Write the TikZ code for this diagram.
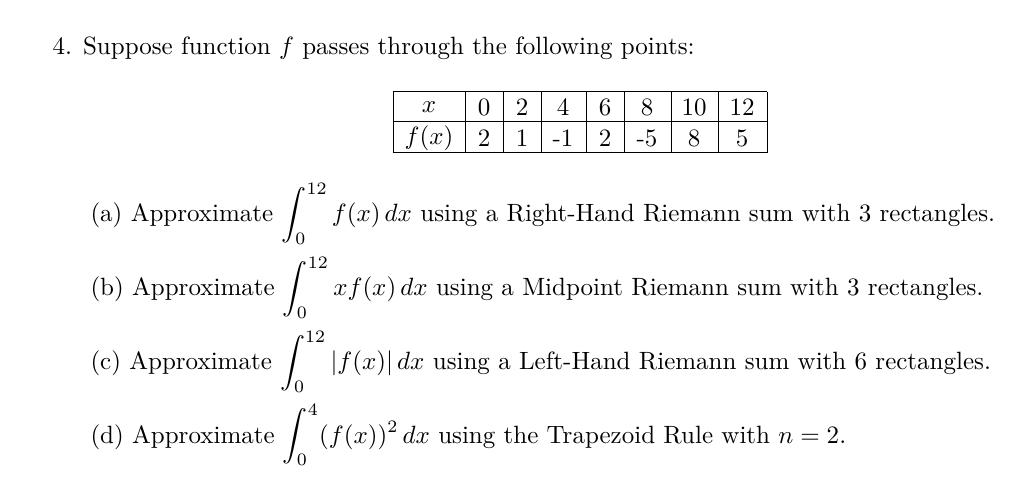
\documentclass[tikz,border=0pt]{standalone}
\begin{document}
\begin{tikzpicture}[x=0.4pt,y=-0.4pt,
  txt/.style={anchor=base west,inner sep=0pt},
  cell/.style={anchor=center,inner sep=0pt}]
\useasboundingbox (0,0) rectangle (1024,484);
\node[txt] (t) at (52,55) {4. Suppose function $f$ passes through the following points:};
\def\xs{393,465,503,541,586,624,671,718,767}
\foreach \x in \xs {\draw[line width=0.4pt] (\x,92) -- (\x,153);}
\draw[line width=0.4pt] (393,92) -- (767,92) (393,122) -- (767,122) (393,153) -- (767,153);
\node[cell] (h0) at (429,107) {$x$};
\node[cell] (f0) at (429,138) {$f(x)$};
\foreach \c/\a/\b in {484/0/2, 522/2/1, 563/4/-1, 605/6/2, 647/8/-5, 694/10/8, 742/12/5}{
  \node[cell] at (\c,107) {\a};
  \node[cell] at (\c,138) {\b};
}
\node[txt] (a) at (90,222) {(a) Approximate $\displaystyle\int_0^{12} f(x)\,dx$ using a Right-Hand Riemann sum with 3 rectangles.};
\node[txt] (b) at (90,296) {(b) Approximate $\displaystyle\int_0^{12} xf(x)\,dx$ using a Midpoint Riemann sum with 3 rectangles.};
\node[txt] (c) at (90,370) {(c) Approximate $\displaystyle\int_0^{12} |f(x)|\,dx$ using a Left-Hand Riemann sum with 6 rectangles.};
\node[txt] (d) at (90,443) {(d) Approximate $\displaystyle\int_0^{4} (f(x))^2\,dx$ using the Trapezoid Rule with $n=2$.};
\end{tikzpicture}
\end{document}
